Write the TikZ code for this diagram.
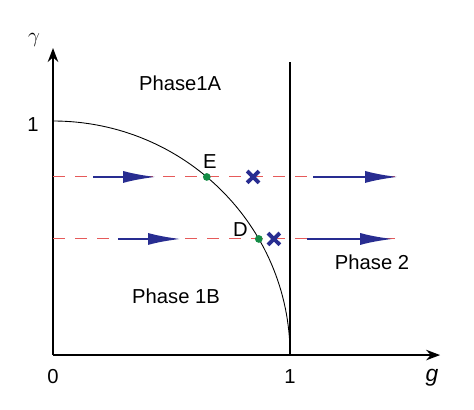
\documentclass[tikz,border=0pt]{standalone}
\usepackage{fontspec}
\setmainfont{Liberation Sans}
\usetikzlibrary{arrows.meta}
\definecolor{flowblue}{RGB}{40,45,145}
\definecolor{cutred}{RGB}{230,90,90}
\definecolor{ptgreen}{RGB}{20,140,70}
\tikzset{
  flow/.style={flowblue,line width=1.4pt,-{Latex[length=0.66cm,width=0.24cm]}},
  cut/.style={cutred,line width=0.6pt,dash pattern=on 0.24cm off 0.2cm},
  cross/.style={flowblue,line width=2.2pt},
  lbl/.style={font=\fontsize{11.5}{13}\selectfont}
}
\begin{document}
\begin{tikzpicture}[>=Stealth,x=4.74cm,y=4.68cm]
  \useasboundingbox (-0.2236,-0.2308) rectangle (1.776,1.517);
  % axes
  \draw[->,line width=1.1pt] (0,0) -- (0,1.312);
  \draw[->,line width=1.1pt] (0,0) -- (1.633,0);
  \node[lbl] (gam) at (-0.080,1.346) {$\gamma$};
  \node[lbl] (gone) at (-0.084,0.987) {1};
  \node[lbl] (zero) at (0,-0.09) {0};
  \node[lbl] (xone) at (1,-0.09) {1};
  \node[lbl,font=\fontsize{13}{14}\selectfont] (gg) at (1.599,-0.098) {\textit{g}};
  % phase boundaries
  \draw[line width=0.5pt] (0,1) arc[start angle=90,end angle=0,radius=1];
  \draw[line width=1.3pt] (1,0) -- (1,1.252);
  % cuts at fixed gamma
  \foreach \y/\a/\b/\c/\d in {0.761/0.169/0.435/1.097/1.456,0.496/0.274/0.540/1.072/1.435}{
    \draw[cut] (0,\y) -- (1.464,\y);
    \coordinate (s1) at (\a,\y); \coordinate (e1) at (\b,\y);
    \coordinate (s2) at (\c,\y); \coordinate (e2) at (\d,\y);
    \draw[flow] (s1) -- (e1);
    \draw[flow] (s2) -- (e2);
  }
  \foreach \x/\y in {0.844/0.761,0.932/0.496}
    \draw[cross,shift={(\x,\y)}] (-0.025,-0.025) -- (0.025,0.025) (-0.025,0.025) -- (0.025,-0.025);
  % critical points
  \fill[ptgreen] (49.55:1) circle[radius=2.2pt] coordinate (E);
  \fill[ptgreen] (29.74:1) circle[radius=2.2pt] coordinate (D);
  \node[lbl] at (0.662,0.826) {E};
  \node[lbl] at (0.791,0.538) {D};
  % phase labels
  \node[lbl] (p1a) at (0.536,1.162) {Phase1A};
  \node[lbl] (p1b) at (0.519,0.252) {Phase 1B};
  \node[lbl] (p2) at (1.346,0.397) {Phase 2};
\end{tikzpicture}
\end{document}
